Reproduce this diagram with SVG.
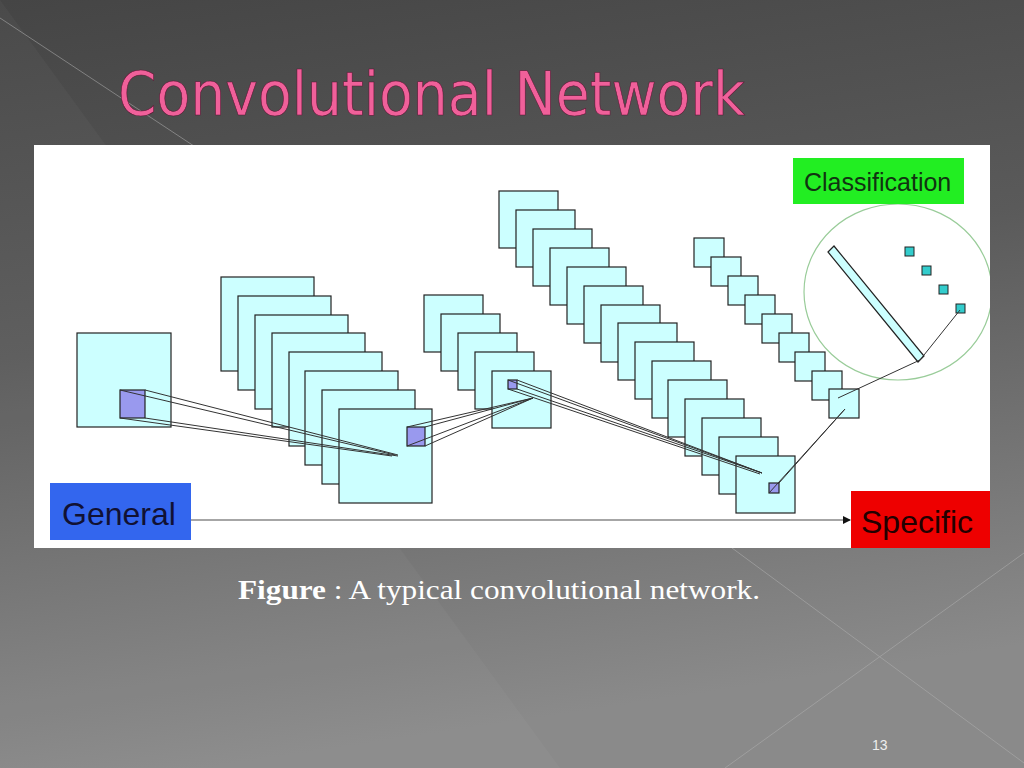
<svg xmlns="http://www.w3.org/2000/svg" width="1024" height="768" viewBox="0 0 1024 768">
<defs>
<linearGradient id="bg" x1="0" y1="0" x2="0.2" y2="1">
<stop offset="0" stop-color="#454545"/><stop offset="0.45" stop-color="#5a5a5a"/><stop offset="1" stop-color="#8a8a8a"/>
</linearGradient>
<clipPath id="panel"><rect x="34" y="145" width="956" height="403"/></clipPath>
<marker id="ah" markerWidth="8" markerHeight="8" refX="7" refY="4" orient="auto" markerUnits="userSpaceOnUse"><path d="M0,0 L8,4 L0,8 z" fill="#111"/></marker>
<style>
.f{fill:#ccffff;stroke:#222;stroke-width:1.2}
.p{fill:#9999ee;stroke:#222;stroke-width:1.2}
.c{fill:#33cccc;stroke:#222;stroke-width:1}
.l{stroke:#333;stroke-width:1;fill:none}
.lab{font-family:"Liberation Sans",Arial,sans-serif}
</style>
</defs>
<rect width="1024" height="768" fill="url(#bg)"/>
<polygon points="0,0 0,768 560,768" fill="#ffffff" opacity="0.03"/>
<g stroke="#b0b0b0" stroke-width="1" opacity="0.55">
<line x1="0" y1="18" x2="200" y2="150"/>
<line x1="732" y1="548" x2="1024" y2="763"/>
<line x1="1024" y1="553" x2="725" y2="768"/>
</g>
<text x="118" y="115" font-family="'DejaVu Sans Condensed','DejaVu Sans',sans-serif" font-size="60" fill="#f0609a" stroke="#5a1030" stroke-width="0.5" textLength="627" lengthAdjust="spacingAndGlyphs">Convolutional Network</text>
<rect x="34" y="145" width="956" height="403" fill="#ffffff"/>

<g id="input"><rect class="f" x="77" y="333" width="94" height="94"/><rect class="p" x="120" y="390" width="25" height="28"/></g>
<g id="layer1">
<rect class="f" x="221" y="277" width="93" height="94"/>
<rect class="f" x="238" y="296" width="93" height="94"/>
<rect class="f" x="255" y="315" width="93" height="94"/>
<rect class="f" x="272" y="333" width="93" height="94"/>
<rect class="f" x="289" y="352" width="93" height="94"/>
<rect class="f" x="305" y="371" width="93" height="94"/>
<rect class="f" x="322" y="390" width="93" height="94"/>
<rect class="f" x="339" y="409" width="93" height="94"/>
<rect class="p" x="407" y="427" width="18" height="19"/>
</g>
<g id="layer2">
<rect class="f" x="424" y="295" width="59" height="57"/>
<rect class="f" x="441" y="314" width="59" height="57"/>
<rect class="f" x="458" y="333" width="59" height="57"/>
<rect class="f" x="475" y="352" width="59" height="57"/>
<rect class="f" x="492" y="371" width="59" height="57"/>
<rect class="p" x="508" y="380" width="9" height="9"/>
</g>
<g id="layer3">
<rect class="f" x="499" y="191" width="59" height="57"/>
<rect class="f" x="516" y="210" width="59" height="57"/>
<rect class="f" x="533" y="229" width="59" height="57"/>
<rect class="f" x="550" y="248" width="59" height="57"/>
<rect class="f" x="567" y="267" width="59" height="57"/>
<rect class="f" x="584" y="286" width="59" height="57"/>
<rect class="f" x="601" y="305" width="59" height="57"/>
<rect class="f" x="618" y="323" width="59" height="57"/>
<rect class="f" x="635" y="342" width="59" height="57"/>
<rect class="f" x="652" y="361" width="59" height="57"/>
<rect class="f" x="668" y="380" width="59" height="57"/>
<rect class="f" x="685" y="399" width="59" height="57"/>
<rect class="f" x="702" y="418" width="59" height="57"/>
<rect class="f" x="719" y="437" width="59" height="57"/>
<rect class="f" x="736" y="456" width="59" height="57"/>
<rect class="p" x="769" y="483" width="10" height="10"/>
</g>
<g id="layer4">
<rect class="f" x="694" y="238" width="30" height="29"/>
<rect class="f" x="711" y="257" width="30" height="29"/>
<rect class="f" x="728" y="276" width="30" height="29"/>
<rect class="f" x="745" y="295" width="30" height="29"/>
<rect class="f" x="762" y="314" width="30" height="29"/>
<rect class="f" x="779" y="333" width="30" height="29"/>
<rect class="f" x="795" y="352" width="30" height="29"/>
<rect class="f" x="812" y="371" width="30" height="29"/>
<rect class="f" x="829" y="389" width="30" height="29"/>
</g>
<g id="classification">
<ellipse cx="898" cy="292" rx="94" ry="88" fill="none" stroke="#99cc99" stroke-width="1.2" clip-path="url(#panel)"/>
<polygon class="f" points="828,252 834,246 924,356 918,362"/>
<rect class="c" x="905" y="247" width="9" height="9"/>
<rect class="c" x="922" y="266" width="9" height="9"/>
<rect class="c" x="939" y="285" width="9" height="9"/>
<rect class="c" x="956" y="304" width="9" height="9"/>
</g>
<g id="connectors">
<path class="l" d="M120,390 L395,455 M145,390 L398,455 M120,418 L392,456 M145,418 L398,456"/>
<path class="l" d="M407,427 L533,398 M425,427 L533,398 M407,446 L533,398 M425,446 L533,398"/>
<path class="l" d="M508,380 L762,473 M517,380 L762,473 M508,389 L760,474 M517,389 L762,473"/>
<path class="l" d="M769,493 L845,409 M779,483 L845,409"/>
<path class="l" d="M838,398 L920,360 L960,310"/>
<line x1="191" y1="520" x2="850" y2="520" stroke="#888" stroke-width="1.5" marker-end="url(#ah)"/>
</g>
<g id="general"><rect x="50" y="483" width="141" height="57" fill="#3366ee"/><text class="lab" x="62" y="525" font-size="32" fill="#111133">General</text></g>
<g id="specific"><rect x="851" y="491" width="139" height="57" fill="#ee0000"/><text class="lab" x="861" y="533" font-size="32" fill="#220000">Specific</text></g>
<g id="classlabel"><rect x="793" y="158" width="171" height="46" fill="#22ee22"/><text class="lab" x="804" y="191" font-size="25" fill="#113311">Classification</text></g>
<text x="238" y="599" font-family="'Liberation Serif',serif" font-size="28" fill="#ffffff" textLength="522" lengthAdjust="spacingAndGlyphs"><tspan font-weight="bold">Figure</tspan> : A typical convolutional network.</text>
<text x="872" y="750" font-family="'Liberation Sans',sans-serif" font-size="14" fill="#eeeeee">13</text>
</svg>
